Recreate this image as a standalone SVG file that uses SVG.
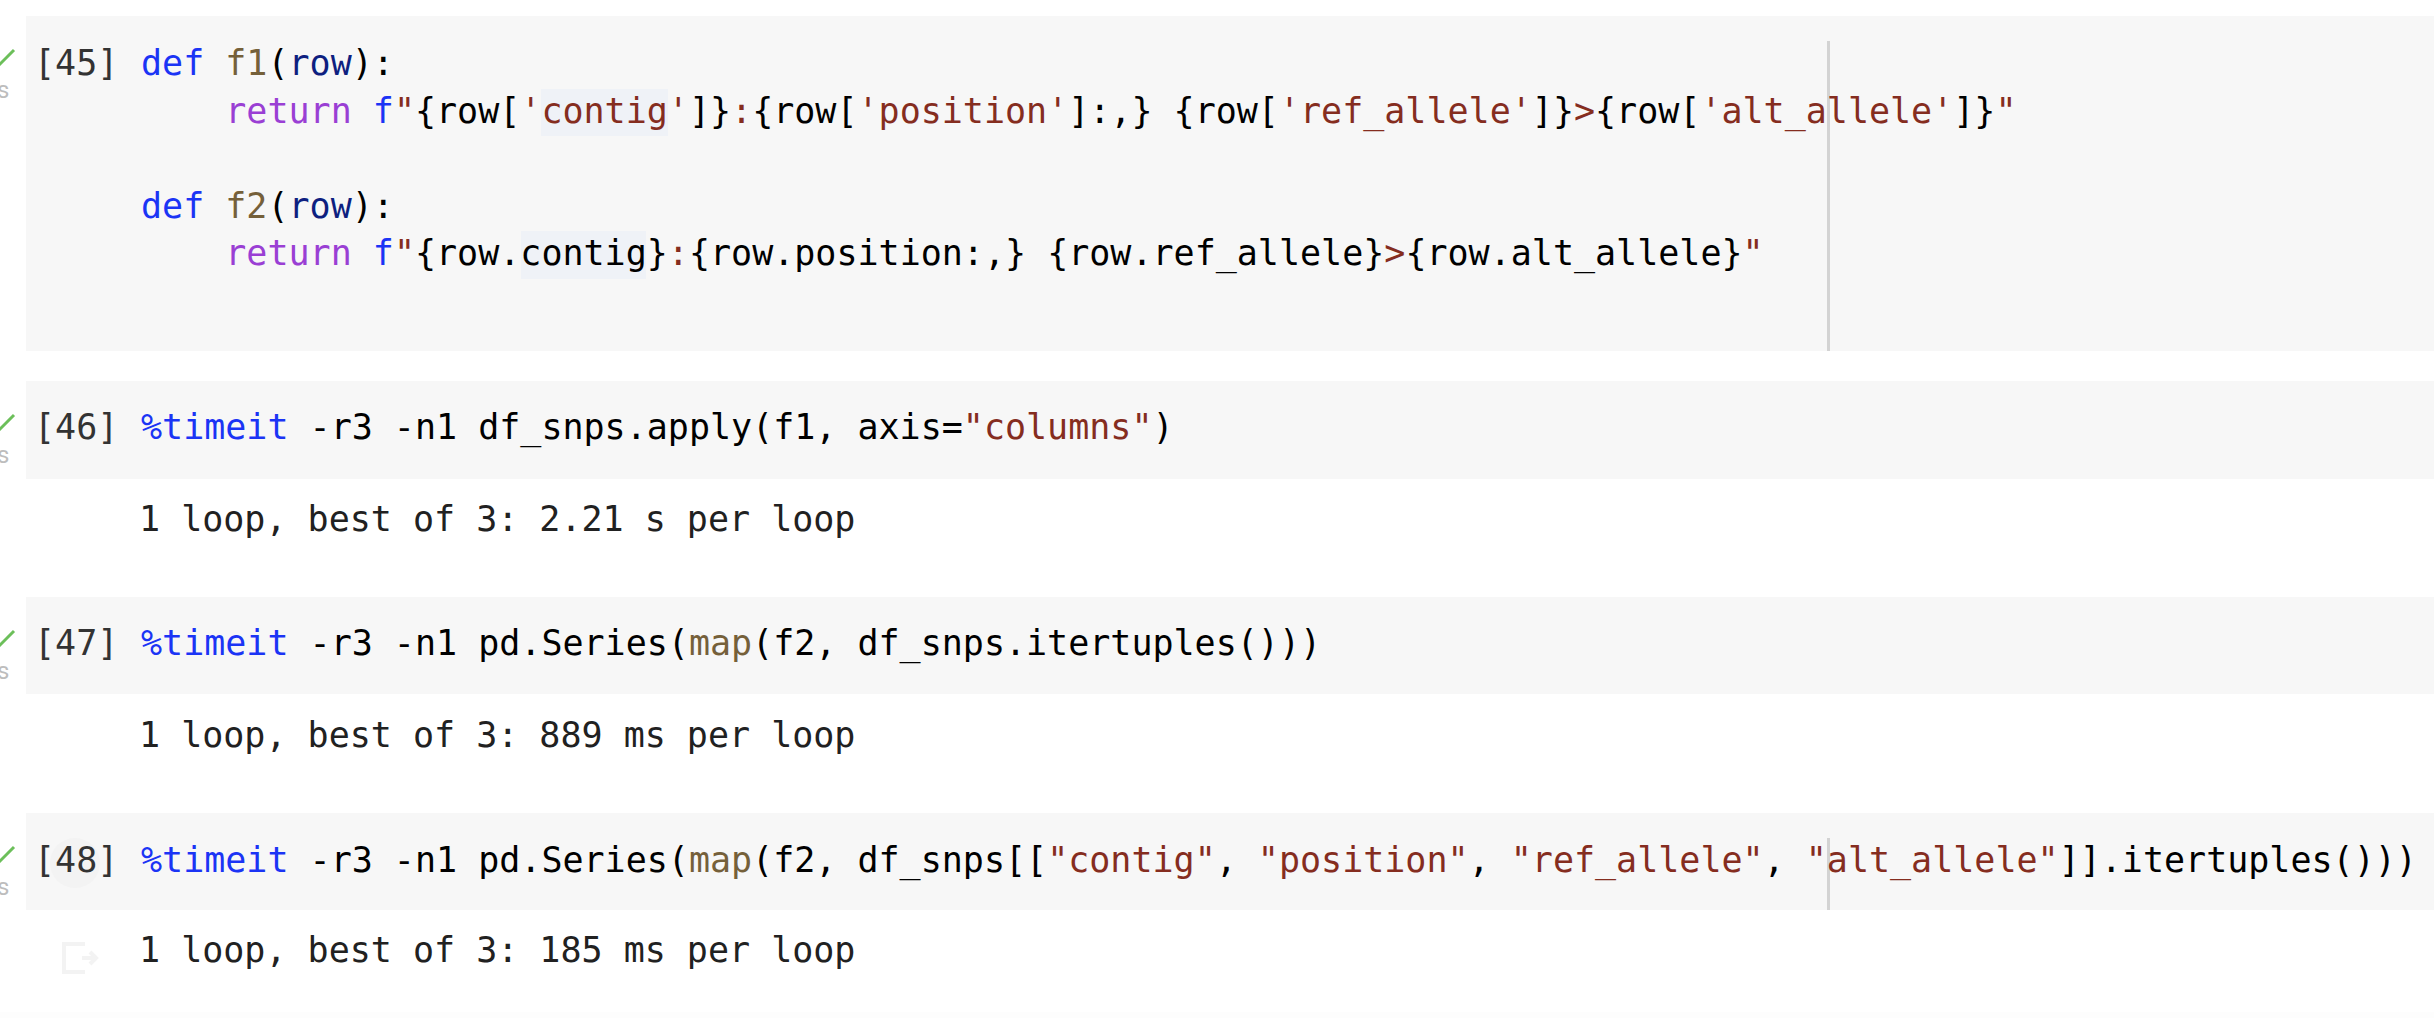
<svg xmlns="http://www.w3.org/2000/svg" width="2434" height="1018" viewBox="0 0 2434 1018">
<style>
text{font-family:"DejaVu Sans Mono","Liberation Mono",monospace;font-size:35px;white-space:pre;fill:#000}
.n{fill:#333}.o{fill:#212121}.k{fill:#1b34f5}.p{fill:#9a3fd4}.u{fill:#75603a}.v{fill:#0e1f80}.s{fill:#852d1f}
.bg{fill:#f7f7f7}.hl{fill:#eff2f7}.rul{fill:#d3d3d3}
.chk{fill:none;stroke:#6cbf5a;stroke-width:3}
text.t{font-family:"Roboto","Liberation Sans",sans-serif;font-size:24px;fill:#bdbdbd}
</style>
<rect width="2434" height="1018" fill="#fff"/>
<rect x="0" y="1012" width="2434" height="6" fill="#fdfdfd"/>
<g id="cell-45">
<rect class="bg" x="26" y="16" width="2408" height="335"/>
<rect class="hl" x="541" y="89" width="127" height="47"/>
<rect class="hl" x="521" y="231" width="125" height="48"/>
<rect class="rul" x="1827" y="41" width="3" height="310"/>
<path class="chk" d="M-1 65L14 50"/><text class="t" x="-3" y="98">s</text>
<text class="n" x="34" y="75">[45]</text>
<text x="141" y="75"><tspan class="k">def</tspan> <tspan class="u">f1</tspan>(<tspan class="v">row</tspan>):</text>
<text x="141" y="123">    <tspan class="p">return</tspan> <tspan class="k">f</tspan><tspan class="s">"</tspan>{row[<tspan class="s">'contig'</tspan>]}<tspan class="s">:</tspan>{row[<tspan class="s">'position'</tspan>]:,} {row[<tspan class="s">'ref_allele'</tspan>]}<tspan class="s">&gt;</tspan>{row[<tspan class="s">'alt_allele'</tspan>]}<tspan class="s">"</tspan></text>
<text x="141" y="218"><tspan class="k">def</tspan> <tspan class="u">f2</tspan>(<tspan class="v">row</tspan>):</text>
<text x="141" y="265">    <tspan class="p">return</tspan> <tspan class="k">f</tspan><tspan class="s">"</tspan>{row.contig}<tspan class="s">:</tspan>{row.position:,} {row.ref_allele}<tspan class="s">&gt;</tspan>{row.alt_allele}<tspan class="s">"</tspan></text>
</g>
<g id="cell-46">
<rect class="bg" x="26" y="381" width="2408" height="98"/>
<path class="chk" d="M-1 430L14 415"/><text class="t" x="-3" y="463">s</text>
<text class="n" x="34" y="439">[46]</text>
<text x="141" y="439"><tspan class="k">%timeit</tspan> -r3 -n1 df_snps.apply(f1, axis=<tspan class="s">"columns"</tspan>)</text>
<text class="o" x="139" y="531">1 loop, best of 3: 2.21 s per loop</text>
</g>
<g id="cell-47">
<rect class="bg" x="26" y="597" width="2408" height="97"/>
<path class="chk" d="M-1 646L14 631"/><text class="t" x="-3" y="679">s</text>
<text class="n" x="34" y="655">[47]</text>
<text x="141" y="655"><tspan class="k">%timeit</tspan> -r3 -n1 pd.Series(<tspan class="u">map</tspan>(f2, df_snps.itertuples()))</text>
<text class="o" x="139" y="747">1 loop, best of 3: 889 ms per loop</text>
</g>
<g id="cell-48">
<rect class="bg" x="26" y="813" width="2408" height="97"/>
<circle cx="75" cy="863" r="25" fill="#f3f3f3"/>
<rect class="rul" x="1827" y="838" width="3" height="72"/>
<path class="chk" d="M-1 862L14 847"/><text class="t" x="-3" y="895">s</text>
<text class="n" x="34" y="872">[48]</text>
<text x="141" y="872"><tspan class="k">%timeit</tspan> -r3 -n1 pd.Series(<tspan class="u">map</tspan>(f2, df_snps[[<tspan class="s">"contig"</tspan>, <tspan class="s">"position"</tspan>, <tspan class="s">"ref_allele"</tspan>, <tspan class="s">"alt_allele"</tspan>]].itertuples()))</text>
<text class="o" x="139" y="962">1 loop, best of 3: 185 ms per loop</text>
<path d="M85 944H64V972H85M82 958H96M90 952L96 958L90 964" fill="none" stroke="#f3f3f3" stroke-width="4"/>
</g>
</svg>
